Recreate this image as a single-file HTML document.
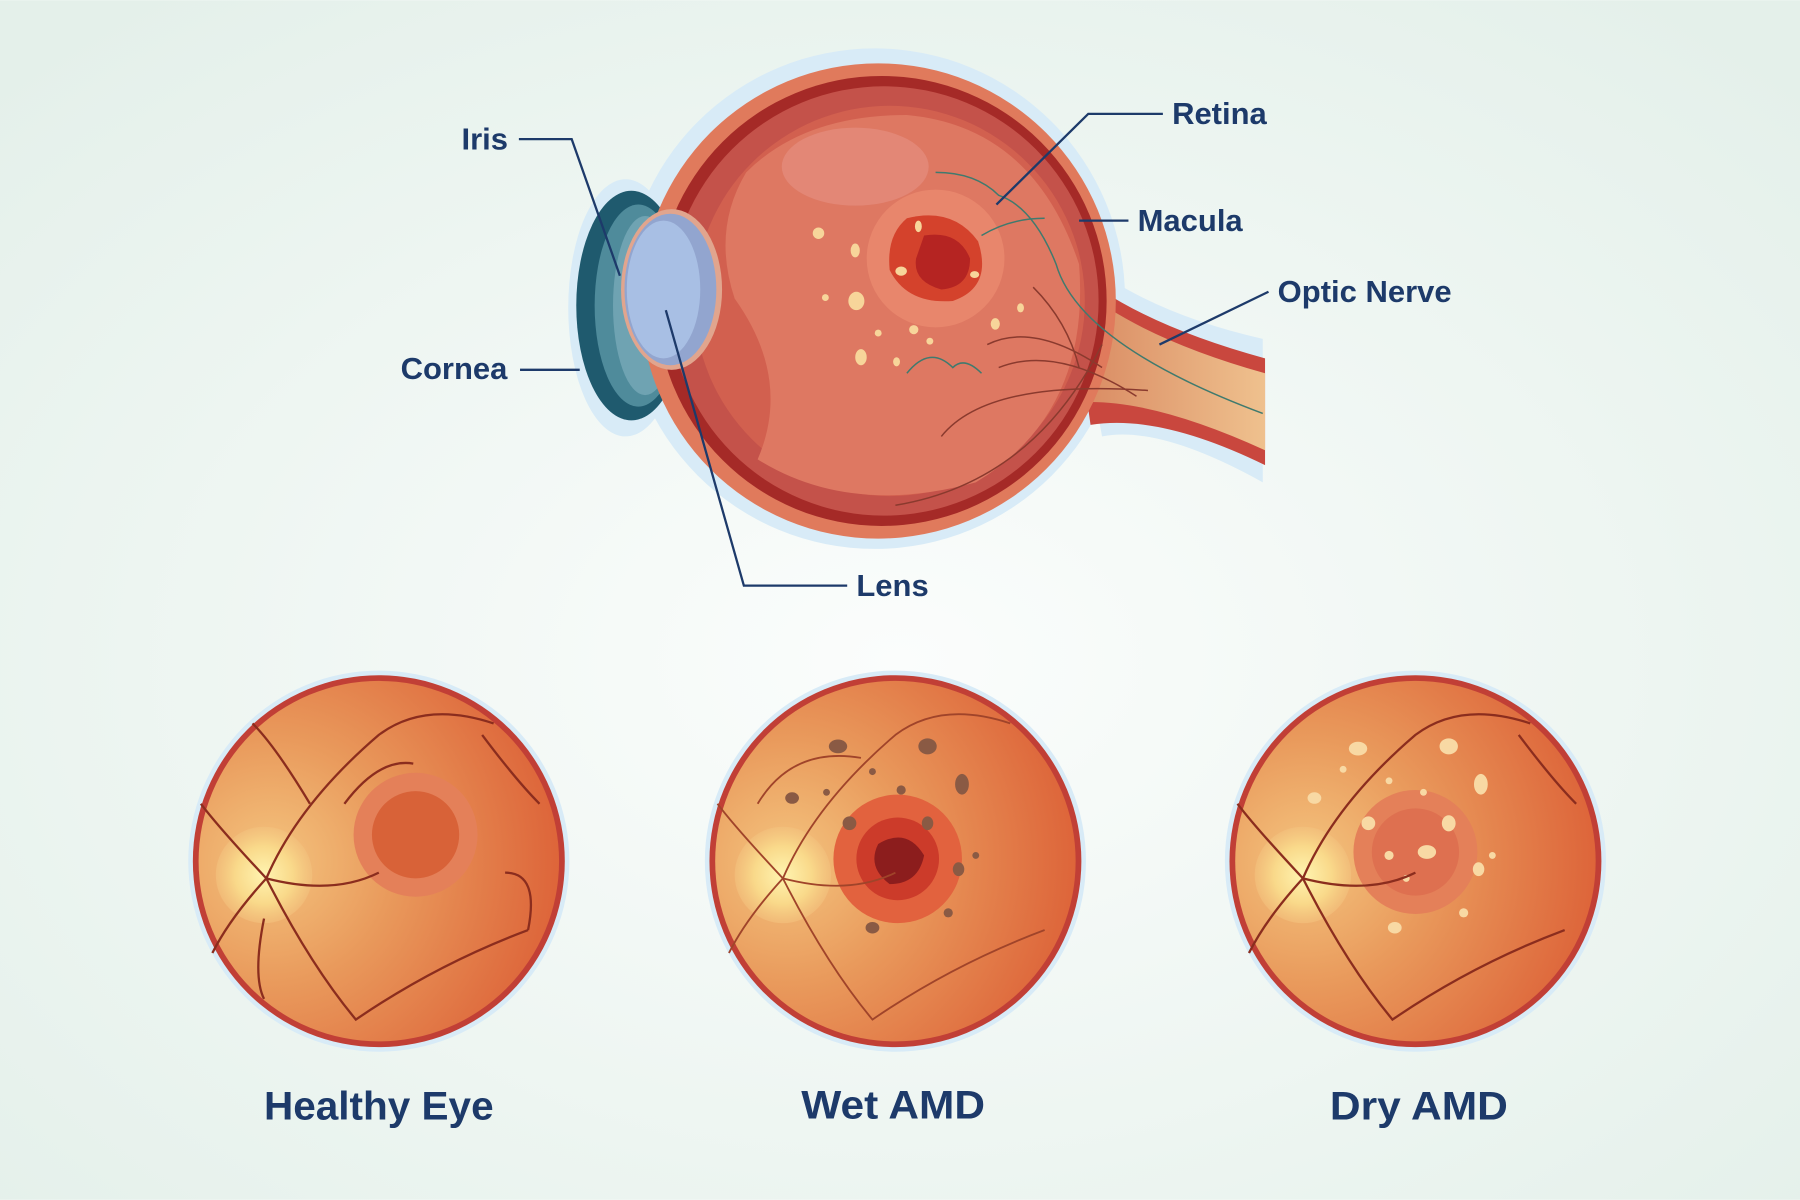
<!DOCTYPE html>
<html><head><meta charset="utf-8"><style>
html,body{margin:0;padding:0;width:1800px;height:1200px;overflow:hidden}
svg{display:block}
text{font-family:"Liberation Sans",sans-serif;font-weight:bold;fill:#1d3a6a}
</style></head><body>
<svg width="1800" height="1200" viewBox="0 0 1568 1045" xmlns="http://www.w3.org/2000/svg">
<defs>
<radialGradient id="bg" cx="50%" cy="55%" r="70%"><stop offset="0" stop-color="#fbfdfc"/><stop offset="1" stop-color="#e4f0ea"/></radialGradient>
<radialGradient id="fund" cx="20%" cy="50%" r="85%"><stop offset="0" stop-color="#f4c47e"/><stop offset="0.4" stop-color="#e99a5c"/><stop offset="1" stop-color="#dc5f36"/></radialGradient>
<radialGradient id="disc" cx="50%" cy="50%" r="50%"><stop offset="0" stop-color="#fff4b0"/><stop offset="0.6" stop-color="#f9d98a"/><stop offset="1" stop-color="#f3c27e" stop-opacity="0.6"/></radialGradient>
<linearGradient id="nerve" x1="0" y1="0" x2="1" y2="0"><stop offset="0" stop-color="#d98a62"/><stop offset="1" stop-color="#efc18e"/></linearGradient>
</defs>
<rect width="1568" height="1045" fill="url(#bg)"/>
<path d="M930 215 Q990 270 1100 295 L1100 420 Q1010 370 960 380 Z" fill="#d8ebf7"/>
<circle cx="762" cy="260" r="218" fill="#d8ebf7"/>
<ellipse cx="545" cy="268" rx="50" ry="112" fill="#d8ebf7"/>
<path d="M930 230 Q985 280 1102 312 L1102 405 Q1010 360 950 370 Z" fill="#c9473e"/>
<path d="M940 250 Q995 295 1102 325 L1102 392 Q1010 350 950 350 Z" fill="url(#nerve)"/>
<ellipse cx="550" cy="266" rx="48" ry="100" fill="#1f5a6e"/>
<ellipse cx="556" cy="266" rx="38" ry="88" fill="#4f8b9b"/>
<ellipse cx="562" cy="266" rx="28" ry="78" fill="#6fa3b2"/>
<circle cx="765" cy="262" r="207" fill="#e07a5c"/>
<circle cx="768" cy="262" r="196" fill="#a52a27"/>
<circle cx="770" cy="262" r="187" fill="#c4524a"/>
<circle cx="775" cy="262" r="170" fill="#d2604f"/>
<path d="M650 150 Q700 100 790 100 Q900 110 940 230 Q950 360 850 420 Q740 450 660 400 Q690 330 640 260 Q620 200 650 150Z" fill="#de7862"/>
<ellipse cx="745" cy="145" rx="64" ry="34" fill="#e8968a" opacity="0.5"/>
<circle cx="815" cy="225" r="60" fill="#e8866c"/>
<path d="M790 190 Q830 180 852 210 Q865 250 830 262 Q790 265 775 235 Q772 205 790 190Z" fill="#d4422c"/>
<path d="M805 205 Q835 200 845 225 Q845 250 820 252 Q795 245 798 225Z" fill="#b52422"/>
<g fill="#f7d59a">
<ellipse cx="713" cy="203" rx="5" ry="5"/><ellipse cx="745" cy="218" rx="4" ry="6"/><ellipse cx="746" cy="262" rx="7" ry="8"/><ellipse cx="719" cy="259" rx="3" ry="3"/><ellipse cx="750" cy="311" rx="5" ry="7"/><ellipse cx="765" cy="290" rx="3" ry="3"/><ellipse cx="796" cy="287" rx="4" ry="4"/><ellipse cx="781" cy="315" rx="3" ry="4"/><ellipse cx="889" cy="268" rx="3" ry="4"/><ellipse cx="867" cy="282" rx="4" ry="5"/><ellipse cx="800" cy="197" rx="3" ry="5"/><ellipse cx="785" cy="236" rx="5" ry="4"/><ellipse cx="849" cy="239" rx="4" ry="3"/><ellipse cx="810" cy="297" rx="3" ry="3"/>
</g>
<g fill="none" stroke="#8a3a2e" stroke-width="1.3">
<path d="M860 300 Q900 280 960 320"/><path d="M870 320 Q920 300 990 345"/><path d="M820 380 Q860 330 1000 340"/><path d="M780 440 Q900 420 960 300"/><path d="M900 250 Q930 280 940 320"/>
</g>
<g fill="none" stroke="#3f7a6e" stroke-width="1.3">
<path d="M815 150 Q850 150 870 170 Q900 180 920 230 Q940 300 1100 360"/><path d="M790 325 Q810 300 830 320 Q840 310 855 325"/><path d="M855 205 Q880 190 910 190"/>
</g>
<ellipse cx="585" cy="252" rx="44" ry="70" fill="#e1a58e"/>
<ellipse cx="584" cy="252" rx="40" ry="66" fill="#92a5cf"/>
<ellipse cx="578" cy="252" rx="32" ry="60" fill="#a8bfe4"/>
<g fill="none" stroke="#1d3a6a" stroke-width="2">
<path d="M452 121 L498 121 L540 240"/>
<path d="M453 322 L505 322"/>
<path d="M580 270 L648 510 L738 510"/>
<path d="M1013 99 L948 99 L868 178"/>
<path d="M983 192 L940 192"/>
<path d="M1105 254 L1010 300"/>
</g>
<text x="402" y="130" font-size="27">Iris</text>
<text x="349" y="330" font-size="27">Cornea</text>
<text x="746" y="519" font-size="27">Lens</text>
<text x="1021" y="108" font-size="27">Retina</text>
<text x="991" y="201" font-size="27">Macula</text>
<text x="1113" y="263" font-size="27">Optic Nerve</text>
<g>
<circle cx="330" cy="750" r="166" fill="#d8ebf7"/>
<circle cx="330" cy="750" r="162" fill="#c13f36"/>
<circle cx="330" cy="750" r="157" fill="url(#fund)"/>
<circle cx="230" cy="762" r="42" fill="url(#disc)"/>
<circle cx="362" cy="727" r="54" fill="#e48059"/>
<circle cx="362" cy="727" r="38" fill="#d86238"/>
<g fill="none" stroke="#8b2d1e" stroke-width="2">
<path d="M232 765 Q260 700 330 640 Q370 610 430 630"/><path d="M232 765 Q290 780 330 760"/><path d="M232 765 Q270 840 310 888 Q380 840 460 810"/><path d="M232 765 Q190 720 175 700"/><path d="M232 765 Q200 800 185 830"/><path d="M270 700 Q240 650 220 630"/><path d="M300 700 Q330 660 360 665"/><path d="M230 800 Q220 850 230 870"/><path d="M420 640 Q450 680 470 700"/><path d="M460 810 Q470 760 440 760"/>
</g>
</g>
<g>
<circle cx="780" cy="750" r="166" fill="#d8ebf7"/>
<circle cx="780" cy="750" r="162" fill="#c13f36"/>
<circle cx="780" cy="750" r="157" fill="url(#fund)"/>
<circle cx="682" cy="762" r="42" fill="url(#disc)"/>
<circle cx="782" cy="748" r="56" fill="#e2623e"/>
<circle cx="782" cy="748" r="36" fill="#cc3b2a"/>
<path d="M765 735 Q790 720 805 745 Q800 770 775 770 Q755 755 765 735Z" fill="#8c1d1d"/>
<g fill="#8a5a44"><ellipse cx="730" cy="650" rx="8" ry="6"/><ellipse cx="808" cy="650" rx="8" ry="7"/><ellipse cx="838" cy="683" rx="6" ry="9"/><ellipse cx="690" cy="695" rx="6" ry="5"/><ellipse cx="740" cy="717" rx="6" ry="6"/><ellipse cx="808" cy="717" rx="5" ry="6"/><ellipse cx="835" cy="757" rx="5" ry="6"/><ellipse cx="760" cy="808" rx="6" ry="5"/><ellipse cx="826" cy="795" rx="4" ry="4"/><ellipse cx="785" cy="688" rx="4" ry="4"/><ellipse cx="760" cy="672" rx="3" ry="3"/><ellipse cx="850" cy="745" rx="3" ry="3"/><ellipse cx="720" cy="690" rx="3" ry="3"/></g>
<g fill="none" stroke="#a0442a" stroke-width="1.6">
<path d="M682 765 Q710 700 780 640 Q820 610 880 630"/><path d="M682 765 Q740 780 780 760"/><path d="M682 765 Q720 840 760 888 Q830 840 910 810"/><path d="M682 765 Q640 720 625 700"/><path d="M682 765 Q650 800 635 830"/><path d="M750 660 Q690 650 660 700"/>
</g>
</g>
<g>
<circle cx="1233" cy="750" r="166" fill="#d8ebf7"/>
<circle cx="1233" cy="750" r="162" fill="#c13f36"/>
<circle cx="1233" cy="750" r="157" fill="url(#fund)"/>
<circle cx="1135" cy="762" r="42" fill="url(#disc)"/>
<circle cx="1233" cy="742" r="54" fill="#e48059"/>
<circle cx="1233" cy="742" r="38" fill="#de7050"/>
<g fill="#f8d9a4"><ellipse cx="1183" cy="652" rx="8" ry="6"/><ellipse cx="1262" cy="650" rx="8" ry="7"/><ellipse cx="1290" cy="683" rx="6" ry="9"/><ellipse cx="1145" cy="695" rx="6" ry="5"/><ellipse cx="1192" cy="717" rx="6" ry="6"/><ellipse cx="1262" cy="717" rx="6" ry="7"/><ellipse cx="1288" cy="757" rx="5" ry="6"/><ellipse cx="1215" cy="808" rx="6" ry="5"/><ellipse cx="1243" cy="742" rx="8" ry="6"/><ellipse cx="1210" cy="745" rx="4" ry="4"/><ellipse cx="1225" cy="765" rx="3" ry="3"/><ellipse cx="1240" cy="690" rx="3" ry="3"/><ellipse cx="1300" cy="745" rx="3" ry="3"/><ellipse cx="1170" cy="670" rx="3" ry="3"/><ellipse cx="1210" cy="680" rx="3" ry="3"/><ellipse cx="1275" cy="795" rx="4" ry="4"/></g>
<g fill="none" stroke="#8b2d1e" stroke-width="2">
<path d="M1135 765 Q1163 700 1233 640 Q1273 610 1333 630"/><path d="M1135 765 Q1193 780 1233 760"/><path d="M1135 765 Q1173 840 1213 888 Q1283 840 1363 810"/><path d="M1135 765 Q1093 720 1078 700"/><path d="M1135 765 Q1103 800 1088 830"/><path d="M1323 640 Q1353 680 1373 700"/>
</g>
</g>
<text x="330" y="975" font-size="35" text-anchor="middle" textLength="200" lengthAdjust="spacingAndGlyphs">Healthy Eye</text>
<text x="778" y="974" font-size="35" text-anchor="middle" textLength="160" lengthAdjust="spacingAndGlyphs">Wet AMD</text>
<text x="1236" y="975" font-size="35" text-anchor="middle" textLength="155" lengthAdjust="spacingAndGlyphs">Dry AMD</text>
</svg>
</body></html>
